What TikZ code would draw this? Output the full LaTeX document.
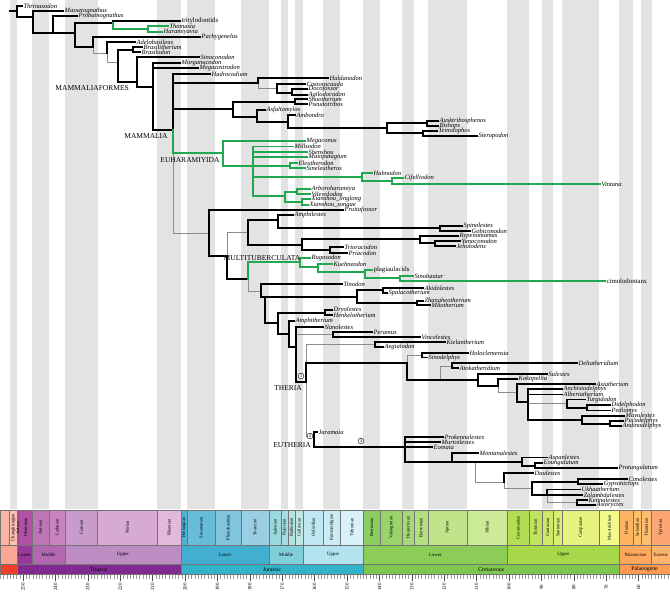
\documentclass[tikz,border=0pt]{standalone}
\usepackage{fontspec}
\setmainfont{Liberation Serif}
\definecolor{treegreen}{HTML}{1FA84F}
\definecolor{stripe}{HTML}{E3E3E3}
\newcommand\branch[3][]{\draw[br,#1] (#2) |- (#3);}

\begin{document}
\begin{tikzpicture}
        [x=1pt, y=-1pt,
        taxon/.style={anchor=west, inner sep=1.4pt, font=\fontsize{6.5}{7}\selectfont\itshape},
        group/.style={anchor=west, inner sep=1.4pt, font=\fontsize{6.8}{7}\selectfont},
        clade/.style={inner sep=0pt, font=\fontsize{7.5}{8}\selectfont},
        numc/.style={circle, draw, fill=white, inner sep=0.6pt, line width=0.4pt, font=\fontsize{5}{5}\selectfont},
        br/.style={line width=1.2pt, line cap=rect},
        weak/.style={line width=0.5pt, draw=black!45, line cap=butt},
        hara/.style={draw=treegreen},
        stagetxt/.style={rotate=90, inner sep=0pt, font=\fontsize{4.6}{5}\selectfont},
        epochtxt/.style={inner sep=0pt, font=\fontsize{4.8}{5}\selectfont},
        periodtxt/.style={inner sep=0pt, font=\fontsize{5.8}{6}\selectfont},
        cell/.style={draw=black!55, line width=0.3pt}]

    \useasboundingbox (0,0) rectangle (670,594);
    \fill[white] (0,0) rectangle (670,594);

    % stages: start/end (Ma), colour, stripe, name
    \foreach \a/\b/\c/\g/\n in {
        257.1/254.14/FCB4A2/0/{}, 254.14/251.9/FCC0B2/1/Changhsingian,
        251.9/251.2/A4469F/0/Induan, 251.2/247.2/B051A5/0/Olenekian,
        247.2/242/BC75B7/1/Anisian, 242/237/C983BF/0/Ladinian,
        237/227/C99BCB/1/Carnian, 227/208.5/D6AAD3/0/Norian,
        208.5/201.3/E3B9DB/1/Rhaetian, 201.3/199.3/4EB3D3/0/Hettangian,
        199.3/190.8/67BCD8/1/Sinemurian, 190.8/182.7/80C5DD/0/Pliensbachian,
        182.7/174.1/99CEE3/1/Toarcian, 174.1/170.3/9AD9DD/0/Aalenian,
        170.3/168.3/A6DDE0/1/Bajocian, 168.3/166.1/B3E2E3/0/Bathonian,
        166.1/163.5/BFE7E5/1/Callovian, 163.5/157.3/BFE7F1/0/Oxfordian,
        157.3/152.1/CCECF4/1/Kimmeridgian, 152.1/145/D9F1F7/0/Tithonian,
        145/139.8/8CCD60/1/Berriasian, 139.8/132.9/99D36A/0/Valanginian,
        132.9/129.4/A6D975/1/Hauterivian, 129.4/125/B3DF7F/0/Barremian,
        125/113/BFE48A/1/Aptian, 113/100.5/CCEA97/0/Albian,
        100.5/93.9/B3DE53/1/Cenomanian, 93.9/89.8/BFE35D/0/Turonian,
        89.8/86.3/CCE968/1/Coniacian, 86.3/83.6/D9EF74/0/Santonian,
        83.6/72.1/E6F47F/1/Campanian, 72.1/66/F2FA8C/0/Maastrichtian,
        66/61.6/FDB462/1/Danian, 61.6/59.2/FEBF65/0/Selandian,
        59.2/56/FDBF6F/1/Thanetian, 56/50.3/FCA773/0/Ypresian}
    {
        \pgfmathsetmacro\xa{23+(250-\a)*3.24}
        \pgfmathsetmacro\xb{23+(250-\b)*3.24}
        \definecolor{cellc}{HTML}{\c}
        \ifnum\g=1 \fill[stripe] (\xa,0) rectangle (\xb,509); \fi
        \fill[cellc] (\xa,510) rectangle (\xb,545);
        \draw[cell] (\xa,510) rectangle (\xb,545);
        \node[stagetxt] at ({(\xa+\xb)/2},527.5) {\n};
    }

    \foreach \a/\b/\c/\n in {
        257.1/251.9/FBA794/{}, 251.9/247.2/983999/Lower, 247.2/237/B168B1/Middle,
        237/201.3/BD8CC3/Upper, 201.3/174.1/42AED0/Lower, 174.1/163.5/80CFD8/Middle,
        163.5/145/B3E3EE/Upper, 145/100.5/8CCD57/Lower, 100.5/66/A6D84A/Upper,
        66/56/FDA75F/Palaeocene, 56/50.3/FDB46C/Eocene}
    {
        \pgfmathsetmacro\xa{23+(250-\a)*3.24}
        \pgfmathsetmacro\xb{23+(250-\b)*3.24}
        \definecolor{cellc}{HTML}{\c}
        \fill[cellc] (\xa,545) rectangle (\xb,564);
        \draw[cell] (\xa,545) rectangle (\xb,564);
        \node[epochtxt] at ({(\xa+\xb)/2},554.5) {\n};
    }

    \foreach \a/\b/\c/\n in {
        257.1/251.9/F04028/{}, 251.9/201.3/812B92/Triassic, 201.3/145/34B2C9/Jurassic,
        145/66/7FC64E/Cretaceous, 66/50.3/FD9A52/Palaeogene}
    {
        \pgfmathsetmacro\xa{23+(250-\a)*3.24}
        \pgfmathsetmacro\xb{23+(250-\b)*3.24}
        \definecolor{cellc}{HTML}{\c}
        \fill[cellc] (\xa,564) rectangle (\xb,574.5);
        \draw[cell] (\xa,564) rectangle (\xb,574.5);
        \node[periodtxt] at ({(\xa+\xb)/2},569.3) {\n};
    }

    % time axis
    \foreach \m in {51,...,257} {
        \pgfmathsetmacro\xt{23+(250-\m)*3.24}
        \draw[black!40, line width=0.3pt] (\xt,575) -- (\xt,578.5);
    }
    \foreach \m in {60,70,...,250} {
        \pgfmathsetmacro\xt{23+(250-\m)*3.24}
        \draw[black!70, line width=0.4pt] (\xt,575) -- (\xt,580.5);
        \node[stagetxt, font=\fontsize{5}{5}\selectfont] at (\xt,587) {\m};
    }

    % internal nodes
    \coordinate (root) at (10,11);
    \coordinate (cy1) at (17,11);
    \coordinate (cy2) at (33,17);
    \coordinate (cy3) at (53,33);
    \coordinate (cy4) at (75,33);
    \coordinate (tr) at (113,23);
    \coordinate (hm) at (148,29);
    \coordinate (cy5) at (93,47);
    \coordinate (cy6) at (107,53);
    \coordinate (cy7) at (118,62);
    \coordinate (bra) at (133,50);
    \coordinate (mf) at (137,82);
    \coordinate (mf2) at (153,87);
    \coordinate (mam) at (173,130);
    \coordinate (doc) at (258,83);
    \coordinate (doc2) at (277,88);
    \coordinate (doc3) at (292,93);
    \coordinate (aus) at (233,109);
    \coordinate (shu) at (295,102);
    \coordinate (aus2) at (257,117);
    \coordinate (aus3) at (288,122);
    \coordinate (mono) at (387,128);
    \coordinate (mono1) at (427,123);
    \coordinate (mono2) at (423,133);
    \coordinate (euh) at (223,153);
    \coordinate (euh2) at (253,166);
    \coordinate (ele) at (290,166);
    \coordinate (hah) at (362,177);
    \coordinate (cif) at (392,181);
    \coordinate (arb) at (285,196);
    \coordinate (arb1) at (297,192);
    \coordinate (arb2) at (302,202);
    \coordinate (thm) at (209,233);
    \coordinate (thm2) at (227,256);
    \coordinate (eutr) at (248,232);
    \coordinate (eutr1) at (278,220);
    \coordinate (gob) at (440,228);
    \coordinate (eutr2) at (302,245);
    \coordinate (rep) at (420,239);
    \coordinate (yan) at (435,243);
    \coordinate (trc) at (330,250);
    \coordinate (mt) at (248,279);
    \coordinate (mult) at (300,262);
    \coordinate (mult1) at (318,267);
    \coordinate (mult2) at (365,272);
    \coordinate (mult3) at (400,278);
    \coordinate (trch) at (261,291);
    \coordinate (trch2) at (265,297);
    \coordinate (spc) at (357,297);
    \coordinate (spc1) at (383,290);
    \coordinate (spc2) at (417,303);
    \coordinate (trch3) at (278,323);
    \coordinate (dry) at (325,313);
    \coordinate (trch4) at (289,334);
    \coordinate (trch5) at (296,347);
    \coordinate (per) at (333,334);
    \coordinate (ther) at (306,382);
    \coordinate (kie) at (375,344);
    \coordinate (meta) at (407,363);
    \coordinate (hol) at (422,355);
    \coordinate (meta2) at (440,380);
    \coordinate (del) at (452,366);
    \coordinate (meta3) at (478,380);
    \coordinate (meta4) at (498,386);
    \coordinate (meta5) at (517,392);
    \coordinate (meta6) at (528,402);
    \coordinate (tur) at (567,403);
    \coordinate (did) at (587,408);
    \coordinate (may) at (582,420);
    \coordinate (puc) at (610,424);
    \coordinate (eut) at (314,436);
    \coordinate (eut2) at (405,447);
    \coordinate (eut3) at (452,462);
    \coordinate (eut4) at (475,462);
    \coordinate (zhe) at (522,462);
    \coordinate (zhe2) at (535,466);
    \coordinate (eut5) at (504,482);
    \coordinate (eut6) at (532,488);
    \coordinate (cim) at (578,482);
    \coordinate (zal) at (547,495);
    \coordinate (ken) at (577,502);

    % taxa
    \node[taxon] (tiri) at (22,6) {Thrinaxodon};
    \node[taxon] (masse) at (63,11) {Massetognathus};
    \node[taxon] (proba) at (77,16) {Probainognathus};
    \node[group] (trit) at (180,21) {tritylodontids};
    \node[taxon] (thoma) at (168,26) {Thomasia};
    \node[taxon] (haram) at (162,32) {Haramiyavia};
    \node[taxon] (pachy) at (200,37) {Pachygenelus};
    \node[taxon] (adelo) at (135,42) {Adelobasileus};
    \node[taxon] (brath) at (142,47) {Brasilitherium};
    \node[taxon] (braso) at (140,52) {Brasilodon};
    \node[taxon] (sino) at (199,57) {Sinoconodon};
    \node[taxon] (morg) at (180,63) {Morganucodon};
    \node[taxon] (mega) at (198,68) {Megazostrodon};
    \node[taxon] (hadro) at (210,74) {Hadrocodium};
    \node[taxon] (hald) at (328,78) {Haldanodon};
    \node[taxon] (cast) at (305,84) {Castorocauda};
    \node[taxon] (doco) at (307,89) {Docofossor};
    \node[taxon] (agil) at (307,95) {Agilodocodon};
    \node[taxon] (shuo) at (307,99) {Shuotherium};
    \node[taxon] (pseu) at (307,104) {Pseudotribos};
    \node[taxon] (asfa) at (265,110) {Asfaltomylos};
    \node[taxon] (ambo) at (295,115) {Ambondro};
    \node[taxon] (ausk) at (438,121) {Ausktribosphenos};
    \node[taxon] (bish) at (438,126) {Bishops};
    \node[taxon] (tein) at (437,131) {Teinolophos};
    \node[taxon] (ster) at (477,136) {Steropodon};
    \node[taxon] (megac) at (305,141) {Megaconus};
    \node[taxon] (mills) at (293,146.5) {Millsodon};
    \node[taxon] (shen) at (307,152) {Shenshou};
    \node[taxon] (maio) at (307,157) {Maiopatagium};
    \node[taxon] (eleu) at (297,163) {Eleutherodon};
    \node[taxon] (sinel) at (305,168) {Sineleutherus};
    \node[taxon] (hahn) at (372,173) {Hahnodon};
    \node[taxon] (cife) at (403,178) {Cifelliodon};
    \node[taxon] (vint) at (600,184) {Vintana};
    \node[taxon] (arbo) at (310,189) {Arboroharamiya};
    \node[taxon] (vile) at (310,194) {Vilevolodon};
    \node[taxon] (xli) at (310,199) {Xianshou\_linglong};
    \node[taxon] (xso) at (308,205) {Xianshou\_songae};
    \node[taxon] (frui) at (343,210) {Fruitafossor};
    \node[taxon] (amphil) at (293,215) {Amphilestes};
    \node[taxon] (spino) at (462,226) {Spinolestes};
    \node[taxon] (gobi) at (470,231) {Gobiconodon};
    \node[taxon] (repe) at (458,236) {Repenomamus};
    \node[taxon] (yano) at (460,241) {Yanoconodon};
    \node[taxon] (jeho) at (455,246) {Jeholodens};
    \node[taxon] (trio) at (343,247) {Trioracodon};
    \node[taxon] (pria) at (347,253) {Priacodon};
    \node[taxon] (rugo) at (310,258) {Rugosodon};
    \node[taxon] (kueh) at (332,264) {Kuehneodon};
    \node[group] (plag) at (372,270) {plagiaulacids};
    \node[taxon] (sinob) at (413,276) {Sinobaatar};
    \node[group] (cimo) at (605,281) {cimolodontans};
    \node[taxon] (tino) at (342,284) {Tinodon};
    \node[taxon] (akid) at (423,288) {Akidolestes};
    \node[taxon] (spal) at (387,293) {Spalacotherium};
    \node[taxon] (zhan) at (423,301) {Zhangheotherium};
    \node[taxon] (maot) at (430,305) {Maotherium};
    \node[taxon] (dryo) at (332,310) {Dryolestes};
    \node[taxon] (henk) at (332,315) {Henkelotherium};
    \node[taxon] (amphit) at (294,321) {Amphitherium};
    \node[taxon] (nano) at (323,327) {Nanolestes};
    \node[taxon] (pera) at (372,332) {Peramus};
    \node[taxon] (vinc) at (420,337) {Vincelestes};
    \node[taxon] (kiel) at (445,342) {Kielantherium};
    \node[taxon] (aegi) at (383,347) {Aegialodon};
    \node[taxon] (holo) at (468,353) {Holoclemensia};
    \node[taxon] (sinod) at (427,357.5) {Sinodelphys};
    \node[taxon] (delt) at (577,363) {Deltatheridium};
    \node[taxon] (atok) at (458,368) {Atokatheridium};
    \node[taxon] (sule) at (547,374) {Sulestes};
    \node[taxon] (koko) at (517,379) {Kokopellia};
    \node[taxon] (asia) at (595,384) {Asiatherium};
    \node[taxon] (anch) at (562,389) {Anchistodelphys};
    \node[taxon] (albe) at (562,394.5) {Albertatherium};
    \node[taxon] (turg) at (585,399.5) {Turgidodon};
    \node[taxon] (dide) at (610,405) {Didelphodon};
    \node[taxon] (pedi) at (610,410.5) {Pediomys};
    \node[taxon] (mayu) at (624,416) {Mayulestes};
    \node[taxon] (puca) at (623,421) {Pucadelphys};
    \node[taxon] (andi) at (621,426) {Andinodelphys};
    \node[taxon] (jura) at (317,432) {Juramaia};
    \node[taxon] (prok) at (443,437) {Prokennalestes};
    \node[taxon] (murt) at (440,442) {Murtoilestes};
    \node[taxon] (eoma) at (432,447) {Eomaia};
    \node[taxon] (mont) at (478,453) {Montanalestes};
    \node[taxon] (aspa) at (547,457.5) {Aspanlestes};
    \node[taxon] (eoun) at (542,463) {Eoungulatum};
    \node[taxon] (prot) at (617,468) {Protungulatum};
    \node[taxon] (daul) at (533,473) {Daulestes};
    \node[taxon] (cimol) at (627,479) {Cimolestes};
    \node[taxon] (gyps) at (602,484) {Gypsonictops};
    \node[taxon] (ukha) at (580,489.5) {Ukhaatherium};
    \node[taxon] (zala) at (582,495) {Zalambdalestes};
    \node[taxon] (kenn) at (587,500) {Kennalestes};
    \node[taxon] (asio) at (595,505) {Asioryctes};

    % weakly supported branches first
    \branch[weak]{cy5}{cy6}
    \branch[weak]{cy6}{cy7}
    \branch[weak]{mam}{thm}
    \branch[weak]{doc}{doc2}
    \branch[weak]{thm2}{eutr}
    \branch[weak]{mt}{trch}
    \branch[weak]{trch5}{per}
    \branch[weak]{ther}{kie}
    \branch[weak]{ther}{eut}
    \branch[weak]{meta}{hol}
    \branch[weak]{meta2}{del}
    \branch[weak]{meta4}{meta5}
    \branch[weak]{meta6}{tur}
    \branch[weak]{eut4}{eut5}
    \branch[weak]{eut5}{eut6}
    \branch[weak]{zal}{ken}

    \draw[br] (root) -- (cy1);
    \branch{cy1}{tiri} \branch{cy1}{cy2}
    \branch{cy2}{masse} \branch{cy2}{cy3}
    \branch{cy3}{proba} \branch{cy3}{cy4}
    \branch{cy4}{tr} \branch{cy4}{cy5}
    \branch{tr}{trit}
    \branch{cy5}{pachy}
    \branch{cy6}{adelo}
    \branch{cy7}{bra} \branch{cy7}{mf}
    \branch{bra}{brath} \branch{bra}{braso}
    \branch{mf}{sino} \branch{mf}{mf2}
    \branch{mf2}{morg} \branch{mf2}{mega} \branch{mf2}{mam}
    \branch{mam}{hadro} \branch{mam}{doc} \branch{mam}{aus}
    \branch{doc}{hald}
    \branch{doc2}{cast} \branch{doc2}{doc3}
    \branch{doc3}{doco} \branch{doc3}{agil}
    \branch{aus}{shu} \branch{aus}{aus2}
    \branch{shu}{shuo} \branch{shu}{pseu}
    \branch{aus2}{asfa} \branch{aus2}{aus3}
    \branch{aus3}{ambo} \branch{aus3}{mono}
    \branch{mono}{mono1} \branch{mono}{mono2}
    \branch{mono1}{ausk} \branch{mono1}{bish}
    \branch{mono2}{tein} \branch{mono2}{ster}
    \branch{thm}{frui} \branch{thm}{thm2}
    \branch{thm2}{mt}
    \branch{eutr}{eutr1} \branch{eutr}{eutr2}
    \branch{eutr1}{amphil} \branch{eutr1}{gob}
    \branch{gob}{spino} \branch{gob}{gobi}
    \branch{eutr2}{rep} \branch{eutr2}{trc}
    \branch{rep}{repe} \branch{rep}{yan}
    \branch{yan}{yano} \branch{yan}{jeho}
    \branch{trc}{trio} \branch{trc}{pria}
    \branch{trch}{tino} \branch{trch}{trch2}
    \branch{trch2}{spc} \branch{trch2}{trch3}
    \branch{spc}{spc1} \branch{spc}{spc2}
    \branch{spc1}{akid} \branch{spc1}{spal}
    \branch{spc2}{zhan} \branch{spc2}{maot}
    \branch{trch3}{dry} \branch{trch3}{trch4}
    \branch{dry}{dryo} \branch{dry}{henk}
    \branch{trch4}{amphit} \branch{trch4}{trch5}
    \branch{trch5}{nano} \branch{trch5}{ther}
    \branch{per}{pera} \branch{per}{vinc}
    \branch{kie}{kiel} \branch{kie}{aegi}
    \branch{ther}{meta}
    \branch{meta}{meta2}
    \branch{hol}{holo} \branch{hol}{sinod}
    \branch{meta2}{meta3}
    \branch{del}{delt} \branch{del}{atok}
    \branch{meta3}{sule} \branch{meta3}{meta4}
    \branch{meta4}{koko}
    \branch{meta5}{asia} \branch{meta5}{meta6}
    \branch{meta6}{anch} \branch{meta6}{albe} \branch{meta6}{may}
    \branch{tur}{turg} \branch{tur}{did}
    \branch{did}{dide} \branch{did}{pedi}
    \branch{may}{mayu} \branch{may}{puc}
    \branch{puc}{puca} \branch{puc}{andi}
    \branch{eut}{jura} \branch{eut}{eut2}
    \branch{eut2}{prok} \branch{eut2}{murt} \branch{eut2}{eoma} \branch{eut2}{eut3}
    \branch{eut3}{mont} \branch{eut3}{eut4}
    \branch{eut4}{zhe}
    \branch{zhe}{aspa} \branch{zhe}{zhe2}
    \branch{zhe2}{eoun} \branch{zhe2}{prot}
    \branch{eut5}{daul}
    \branch{eut6}{cim} \branch{eut6}{zal}
    \branch{cim}{cimol} \branch{cim}{gyps}
    \branch{zal}{ukha} \branch{zal}{zala}
    \branch{ken}{kenn} \branch{ken}{asio}

    % haramiyidans and multituberculates
    \branch[hara]{tr}{hm}
    \branch[hara]{hm}{thoma} \branch[hara]{hm}{haram}
    \branch[hara]{mam}{euh}
    \branch[hara]{euh}{megac} \branch[hara]{euh}{euh2}
    \branch[hara]{euh2}{mills} \branch[hara]{euh2}{shen} \branch[hara]{euh2}{maio}
    \branch[hara]{euh2}{ele} \branch[hara]{euh2}{hah} \branch[hara]{euh2}{arb}
    \branch[hara]{ele}{eleu} \branch[hara]{ele}{sinel}
    \branch[hara]{hah}{hahn} \branch[hara]{hah}{cif}
    \branch[hara]{cif}{cife} \branch[hara]{cif}{vint}
    \branch[hara]{arb}{arb1} \branch[hara]{arb}{arb2}
    \branch[hara]{arb1}{arbo} \branch[hara]{arb1}{vile}
    \branch[hara]{arb2}{xli} \branch[hara]{arb2}{xso}
    \branch[hara]{mt}{mult}
    \branch[hara]{mult}{rugo} \branch[hara]{mult}{mult1}
    \branch[hara]{mult1}{kueh} \branch[hara]{mult1}{mult2}
    \branch[hara]{mult2}{plag} \branch[hara]{mult2}{mult3}
    \branch[hara]{mult3}{sinob} \branch[hara]{mult3}{cimo}

    % clade names
    \node[clade, anchor=east] (lmf) at (129,88) {MAMMALIAFORMES};
    \node[clade] (lmam) at (146,136) {MAMMALIA};
    \node[clade] (leuh) at (190,160) {EUHARAMIYIDA};
    \node[clade] (lmul) at (262,258) {MULTITUBERCULATA};
    \node[clade] (lthe) at (288,388) {THERIA};
    \node[clade] (leut) at (292,445) {EUTHERIA};
    \node[numc] (c1) at (301,376) {1};
    \node[numc] (c2) at (310,436) {2};
    \node[numc] (c3) at (361,441) {3};
\end{tikzpicture}
\end{document}
